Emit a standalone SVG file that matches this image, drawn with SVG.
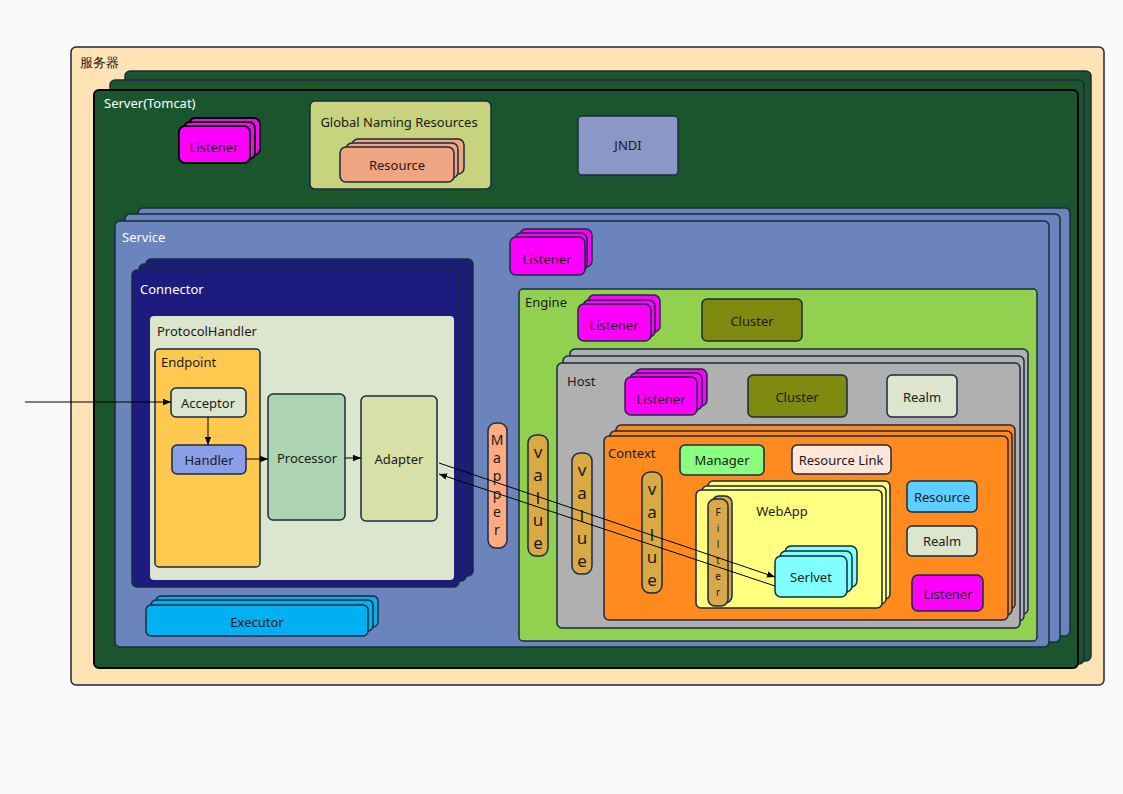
<svg xmlns="http://www.w3.org/2000/svg" width="1123" height="794" viewBox="0 0 1123 794">
<defs>
<style>
text{font-family:"Noto Sans","Liberation Sans",sans-serif;font-size:13px;fill:#1a1a1a}
.w{fill:#ffffff}
.b{stroke:#1a2a40;stroke-width:1.5}
.bk{stroke:#000;stroke-width:2}
.c{text-anchor:middle}
.f{font-size:10px}
.m{font-size:14px}
.v{font-size:17px}
.ln{stroke:#000;stroke-width:1;fill:none}
</style>
<marker id="ar" viewBox="0 0 10 10" refX="10" refY="5" markerWidth="8" markerHeight="8" orient="auto-start-reverse"><path d="M0,1 L10,5 L0,9 z" fill="#000"/></marker>
</defs>
<rect width="1123" height="794" fill="#f9f9f9"/>
<g id="outer"><rect x="71" y="47" width="1033" height="638" rx="5" fill="#ffe3b5" class="b"/><text x="80" y="67">服务器</text></g>
<g id="server">
<rect x="125" y="71" width="966" height="590" rx="5" fill="#1a552d" class="b"/>
<rect x="110" y="80" width="974" height="584" rx="5" fill="#1a552d" class="b"/>
<rect x="94" y="90" width="984" height="578" rx="5" fill="#1a552d" class="bk"/>
<text x="104" y="108" class="w">Server(Tomcat)</text></g>
<g id="srvListener">
<rect x="189" y="118" width="71" height="37" rx="6" fill="#ff00ff" class="bk"/>
<rect x="184" y="122" width="71" height="37" rx="6" fill="#ff00ff" class="bk"/>
<rect x="179" y="126" width="71" height="37" rx="6" fill="#ff00ff" class="bk"/>
<text x="214" y="152" class="c">Listener</text></g>
<g id="gnr"><rect x="310" y="101" width="181" height="88" rx="5" fill="#c8d37e" class="b"/><text x="399" y="127" class="c">Global Naming Resources</text>
<rect x="352" y="139" width="112" height="35" rx="6" fill="#f0a582" class="b"/>
<rect x="346" y="143" width="112" height="35" rx="6" fill="#f0a582" class="b"/>
<rect x="340" y="147" width="114" height="35" rx="6" fill="#f0a582" class="b"/>
<text x="397" y="170" class="c">Resource</text></g>
<g id="jndi"><rect x="578" y="116" width="100" height="59" rx="4" fill="#8b97c6" class="b"/><text x="628" y="150" class="c">JNDI</text></g>
<g id="service">
<rect x="138" y="208" width="932" height="428" rx="5" fill="#6b84bb" class="b"/>
<rect x="125" y="214" width="935" height="428" rx="5" fill="#6b84bb" class="b"/>
<rect x="115" y="221" width="934" height="426" rx="5" fill="#6b84bb" class="b"/>
<text x="122" y="242" class="w">Service</text></g>
<g id="svcListener">
<rect x="520" y="229" width="72" height="38" rx="6" fill="#ff00ff" class="b"/>
<rect x="515" y="233" width="72" height="38" rx="6" fill="#ff00ff" class="b"/>
<rect x="510" y="237" width="75" height="38" rx="6" fill="#ff00ff" class="b"/>
<text x="547" y="264" class="c">Listener</text></g>
<g id="connector">
<rect x="146" y="259" width="327" height="317" rx="5" fill="#1e1b80" class="b"/>
<rect x="139" y="264" width="327" height="317" rx="5" fill="#1e1b80" class="b"/>
<rect x="132" y="270" width="327" height="317" rx="5" fill="#1e1b80" class="b"/>
<text x="140" y="294" class="w">Connector</text></g>
<g id="protocolHandler"><rect x="150" y="316" width="304" height="264" rx="4" fill="#dce5cd"/><text x="157" y="336">ProtocolHandler</text></g>
<g id="endpoint"><rect x="155" y="349" width="105" height="218" rx="4" fill="#ffc94f" class="b" stroke-width="1"/><text x="161" y="367">Endpoint</text></g>
<g id="acceptor"><rect x="171" y="388" width="75" height="29" rx="5" fill="#dce5cd" class="b" stroke-width="1"/><text x="208" y="408" class="c">Acceptor</text></g>
<g id="handler"><rect x="172" y="445" width="74" height="29" rx="5" fill="#8b9ee8" class="b" stroke-width="1"/><text x="209" y="465" class="c">Handler</text></g>
<g id="processor"><rect x="268" y="394" width="77" height="126" rx="5" fill="#acd4b0" class="b" stroke-width="1"/><text x="307" y="463" class="c">Processor</text></g>
<g id="adapter"><rect x="361" y="396" width="76" height="125" rx="5" fill="#d8e0a8" class="b" stroke-width="1"/><text x="399" y="464" class="c">Adapter</text></g>
<g id="executor">
<rect x="156" y="596" width="222" height="31" rx="5" fill="#00b0f0" class="b"/>
<rect x="151" y="600" width="222" height="31" rx="5" fill="#00b0f0" class="b"/>
<rect x="146" y="605" width="222" height="31" rx="5" fill="#00b0f0" class="b"/>
<text x="257" y="627" class="c">Executor</text></g>
<g id="engine"><rect x="519" y="289" width="518" height="352" rx="4" fill="#92d050" class="b"/><text x="525" y="307">Engine</text></g>
<g id="engListener">
<rect x="588" y="295" width="72" height="37" rx="6" fill="#ff00ff" class="b"/>
<rect x="583" y="300" width="72" height="37" rx="6" fill="#ff00ff" class="b"/>
<rect x="578" y="304" width="73" height="37" rx="6" fill="#ff00ff" class="b"/>
<text x="614" y="330" class="c">Listener</text></g>
<g id="engCluster"><rect x="702" y="299" width="100" height="42" rx="5" fill="#808a0e" class="b"/><text x="752" y="326" class="c">Cluster</text></g>
<g id="host">
<rect x="570" y="349" width="458" height="265" rx="5" fill="#b0b0b0" class="b"/>
<rect x="563" y="356" width="461" height="265" rx="5" fill="#b0b0b0" class="b"/>
<rect x="557" y="363" width="463" height="265" rx="5" fill="#b0b0b0" class="b"/>
<text x="567" y="386">Host</text></g>
<g id="hostListener">
<rect x="635" y="369" width="72" height="37" rx="6" fill="#ff00ff" class="b"/>
<rect x="630" y="373" width="72" height="37" rx="6" fill="#ff00ff" class="b"/>
<rect x="625" y="377" width="72" height="38" rx="6" fill="#ff00ff" class="b"/>
<text x="661" y="404" class="c">Listener</text></g>
<g id="hostCluster"><rect x="748" y="375" width="99" height="42" rx="5" fill="#808a0e" class="b"/><text x="797" y="402" class="c">Cluster</text></g>
<g id="hostRealm"><rect x="887" y="375" width="70" height="42" rx="5" fill="#dce5cd" class="b"/><text x="922" y="402" class="c">Realm</text></g>
<g id="context">
<rect x="616" y="425" width="399" height="184" rx="5" fill="#ff8a1d" class="b"/>
<rect x="610" y="431" width="402" height="184" rx="5" fill="#ff8a1d" class="b"/>
<rect x="604" y="436" width="404" height="184" rx="5" fill="#ff8a1d" class="b"/>
<text x="608" y="458">Context</text></g>
<g id="manager"><rect x="680" y="445" width="84" height="30" rx="5" fill="#88ff7f" class="b"/><text x="722" y="465" class="c">Manager</text></g>
<g id="resLink"><rect x="792" y="445" width="99" height="29" rx="5" fill="#ffe7d8" class="b"/><text x="841" y="465" class="c">Resource Link</text></g>
<g id="ctxResource"><rect x="907" y="481" width="70" height="31" rx="5" fill="#5ccfff" class="b"/><text x="942" y="502" class="c">Resource</text></g>
<g id="ctxRealm"><rect x="907" y="526" width="70" height="30" rx="5" fill="#dce5cd" class="b"/><text x="942" y="546" class="c">Realm</text></g>
<g id="ctxListener"><rect x="912" y="575" width="71" height="36" rx="6" fill="#ff00ff" class="b"/><text x="948" y="599" class="c">Listener</text></g>
<g id="webapp">
<rect x="708" y="481" width="182" height="118" rx="5" fill="#ffff80" class="b"/>
<rect x="702" y="486" width="184" height="118" rx="5" fill="#ffff80" class="b"/>
<rect x="696" y="490" width="186" height="118" rx="5" fill="#ffff80" class="b"/>
<text x="782" y="516" class="c">WebApp</text></g>
<g id="filter">
<rect x="712" y="496" width="20" height="107" rx="7" fill="#d9a84a" class="b"/>
<rect x="708" y="499" width="20" height="107" rx="7" fill="#d9a84a" class="b"/>
<text x="718" y="516" class="c f">F</text><text x="718" y="532" class="c f">i</text><text x="718" y="548" class="c f">l</text><text x="718" y="564" class="c f">t</text><text x="718" y="580" class="c f">e</text><text x="718" y="596" class="c f">r</text></g>
<g id="servlet">
<rect x="785" y="546" width="72" height="41" rx="6" fill="#80ffff" class="b"/>
<rect x="780" y="551" width="72" height="41" rx="6" fill="#80ffff" class="b"/>
<rect x="775" y="556" width="72" height="41" rx="6" fill="#80ffff" class="b"/>
<text x="811" y="582" class="c">Serlvet</text></g>
<g id="mapper"><rect x="488" y="423" width="19" height="125" rx="8" fill="#ffaa80" class="b" stroke-width="1"/>
<text x="497" y="445" class="c m">M</text><text x="497" y="463" class="c m">a</text><text x="497" y="481" class="c m">p</text><text x="497" y="499" class="c m">p</text><text x="497" y="517" class="c m">e</text><text x="497" y="535" class="c m">r</text></g>
<g id="value1"><rect x="528" y="435" width="20" height="121" rx="8" fill="#d9aa44" class="b"/>
<text x="538" y="458" class="c v">v</text><text x="538" y="481" class="c v">a</text><text x="538" y="504" class="c v">l</text><text x="538" y="526" class="c v">u</text><text x="538" y="549" class="c v">e</text></g>
<g id="value2"><rect x="572" y="453" width="20" height="121" rx="8" fill="#d9aa44" class="b"/>
<text x="582" y="476" class="c v">v</text><text x="582" y="499" class="c v">a</text><text x="582" y="522" class="c v">l</text><text x="582" y="544" class="c v">u</text><text x="582" y="567" class="c v">e</text></g>
<g id="value3"><rect x="642" y="472" width="20" height="121" rx="8" fill="#d9aa44" class="b"/>
<text x="652" y="495" class="c v">v</text><text x="652" y="518" class="c v">a</text><text x="652" y="541" class="c v">l</text><text x="652" y="563" class="c v">u</text><text x="652" y="586" class="c v">e</text></g>
<g id="connectors">
<line x1="25" y1="402" x2="171" y2="402" class="ln" marker-end="url(#ar)"/>
<line x1="208" y1="417" x2="208" y2="445" class="ln" marker-end="url(#ar)"/>
<line x1="246" y1="459" x2="268" y2="459" class="ln" marker-end="url(#ar)"/>
<line x1="345" y1="458" x2="361" y2="458" class="ln" marker-end="url(#ar)"/>
<line x1="439" y1="463" x2="775" y2="577" class="ln" marker-end="url(#ar)"/>
<line x1="775" y1="586" x2="439" y2="474" class="ln" marker-end="url(#ar)"/>
</g>
</svg>
